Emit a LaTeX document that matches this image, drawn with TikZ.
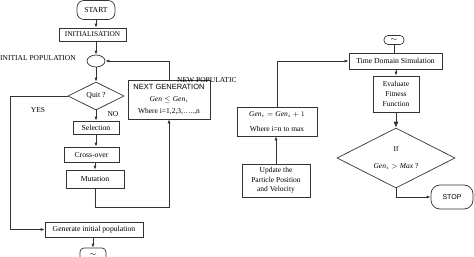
\documentclass[tikz,border=0pt]{standalone}
\usepackage{fontspec}
\setmainfont{Liberation Serif}
\newfontfamily\arialfont{Liberation Sans}
\usetikzlibrary{arrows.meta,shapes.geometric}
\tikzset{
  stepbox/.style={draw=black!80, line width=0.7pt, rectangle, inner sep=1pt,
    align=center, font=\fontsize{7.7}{9}\selectfont},
  termbox/.style={stepbox, rounded corners=7pt},
  testbox/.style={stepbox, diamond, aspect=2, inner sep=0pt},
  joinbox/.style={draw=black!80, line width=0.7pt, ellipse, inner sep=0pt},
  flow/.style={draw=black!80, line width=0.7pt, -{Latex[length=4pt,width=3pt]}},
  bigflow/.style={flow, -{Latex[length=6pt,width=5pt]}},
  plain/.style={draw=black!80, line width=0.7pt},
  note/.style={font=\fontsize{7.5}{9}\selectfont, inner sep=0pt},
}

\begin{document}
\begin{tikzpicture}[x=1pt,y=-1pt]
\useasboundingbox (0,0) rectangle (474,257);
% genetic algorithm part
\node[termbox, minimum width=38pt, minimum height=19pt] (start) at (96,10) {START};
\node[stepbox, minimum width=67pt, minimum height=13pt, font=\fontsize{7.3}{8}\selectfont] (init) at (92.5,34.5) {INITIALISATION};
\node[joinbox, minimum width=18pt, minimum height=12pt] (join) at (96,61) {};
\node[testbox, minimum width=56pt, minimum height=28pt] (quit) at (96,96) {Quit ?};
\node[stepbox, minimum width=46pt, minimum height=13pt] (sel) at (96,127.5) {Selection};
\node[stepbox, minimum width=55pt, minimum height=15pt] (cross) at (91.5,154.5) {Cross-over};
\node[stepbox, minimum width=58pt, minimum height=18pt] (mut) at (95,179) {Mutation};
\node[stepbox, minimum width=82pt, minimum height=39pt, font=\fontsize{7.5}{12}\selectfont] (next) at (169,99.5)
  {{\arialfont NEXT GENERATION}\\ $\mathit{Gen} \le \mathit{Gen}_i$\\ Where i=1,2,3,\ldots..,n};
\node[stepbox, minimum width=98pt, minimum height=15pt] (gen) at (94,229.5) {Generate initial population};
\node[termbox, minimum width=26pt, minimum height=14pt, rounded corners=4pt] (endA) at (93,255) {$\sim$};
\node[note, anchor=west] (initlbl) at (0,58) {INITIAL POPULATION};
\node[note, anchor=west] (newlbl) at (177,80) {NEW POPULATIC};
\node[note] (yeslbl) at (38,110) {YES};
\node[note] (nolbl) at (113,114) {NO};
\draw[flow] (start.south) -- (start.south |- init.north);
\draw[flow] (join.north |- init.south) -- (join.north);
\draw[flow] (join.south) -- (quit.north);
\draw[flow] (quit.south) -- (sel.north);
\draw[flow] (sel.south) -- (sel.south |- cross.north);
\draw[flow] (mut.north |- cross.south) -- (mut.north);
\draw[flow] (mut.south) -- ++(0,19) -| (next.south);
\draw[flow] (next.north) |- (join.east);
\draw[flow] (quit.west) -| (10,229.5) -- (gen.west);
\draw[flow] (endA.north |- gen.south) -- (endA.north);
% particle swarm part
\node[termbox, minimum width=20pt, minimum height=9pt, rounded corners=4pt, inner sep=0pt] (endB) at (394,40) {$\sim$};
\node[stepbox, minimum width=93pt, minimum height=16pt] (tds) at (395.5,61) {Time Domain Simulation};
\node[stepbox, minimum width=46pt, minimum height=36pt, font=\fontsize{7.5}{10}\selectfont] (eval) at (396,94) {Evaluate\\ Fitness\\ Function};
\node[testbox, minimum width=118pt, minimum height=60pt, font=\fontsize{7.5}{17}\selectfont] (maxd) at (396,158)
  {If\\ $\mathit{Gen}_i > \mathit{Max}$ ?};
\node[termbox, minimum width=42pt, minimum height=24pt, rounded corners=9pt, font=\arialfont\fontsize{7}{8}\selectfont] (stop) at (452,197) {STOP};
\node[stepbox, minimum width=80pt, minimum height=29pt, font=\fontsize{7.5}{15}\selectfont] (geni) at (277,121.5)
  {$\mathit{Gen}_i = \mathit{Gen}_i + 1$\\ Where i=n to max};
\node[stepbox, minimum width=68pt, minimum height=33pt, font=\fontsize{7.5}{9.5}\selectfont] (upd) at (276,180.5)
  {Update the\\ Particle Position\\ and Velocity};
\draw[plain] (endB.south) -- (endB.south |- tds.north);
\draw[flow] (eval.north |- tds.south) -- (eval.north);
\draw[bigflow] (eval.south) -- (maxd.north);
\draw[flow] (maxd.south) |- (stop.west);
\draw[flow] (upd.north) -- (upd.north |- geni.south);
\draw[flow] (geni.north) |- (tds.west);
\end{tikzpicture}
\end{document}
